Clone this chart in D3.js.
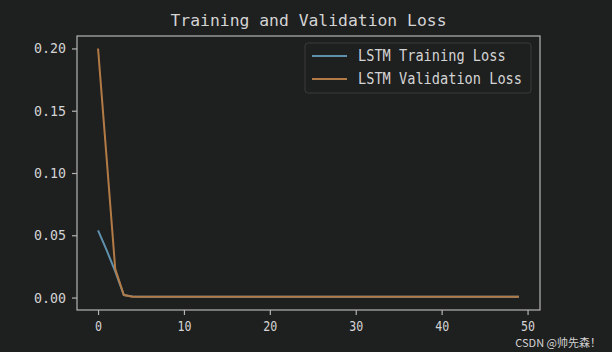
<!DOCTYPE html>
<html>
<head>
<meta charset="utf-8">
<script src="https://cdn.jsdelivr.net/npm/d3@7"></script>
<style>
  body { margin: 0; background: #1e1f1f; }
  text { font-family: "DejaVu Sans Mono", "Liberation Mono", monospace; fill: #d4d4d4; }
</style>
</head>
<body>
<div class="chart"></div>
<script>
// loss per epoch
const trainLoss = [0.054, 0.038, 0.021, 0.002, 0.0008, 0.0007, 0.0007, 0.0006, 0.0006, 0.0006,
  0.0006, 0.0006, 0.0006, 0.0006, 0.0006, 0.0006, 0.0006, 0.0006, 0.0006, 0.0006,
  0.0006, 0.0006, 0.0006, 0.0006, 0.0006, 0.0006, 0.0006, 0.0006, 0.0006, 0.0006,
  0.0006, 0.0006, 0.0006, 0.0006, 0.0006, 0.0006, 0.0006, 0.0006, 0.0006, 0.0006,
  0.0006, 0.0006, 0.0006, 0.0006, 0.0006, 0.0006, 0.0006, 0.0006, 0.0006, 0.0006];
const valLoss = [0.200, 0.112, 0.023, 0.002, 0.0006, 0.0006, 0.0006, 0.0006, 0.0006, 0.0006,
  0.0006, 0.0006, 0.0006, 0.0006, 0.0006, 0.0006, 0.0006, 0.0006, 0.0006, 0.0006,
  0.0006, 0.0006, 0.0006, 0.0006, 0.0006, 0.0006, 0.0006, 0.0006, 0.0006, 0.0006,
  0.0006, 0.0006, 0.0006, 0.0006, 0.0006, 0.0006, 0.0006, 0.0006, 0.0006, 0.0006,
  0.0006, 0.0006, 0.0006, 0.0006, 0.0006, 0.0006, 0.0006, 0.0006, 0.0006, 0.0006];
const xTicks = [0, 10, 20, 30, 40, 50];
const yTicks = [0, 0.05, 0.10, 0.15, 0.20];
const seriesNames = ["LSTM Training Loss", "LSTM Validation Loss"];
const colors = ["#5f91ad", "#b27b46"];

const width = 612, height = 352;
const m = {left: 77, right: 540, top: 36, bottom: 310};

const svg = d3.select('.chart').append('svg')
    .attr('width', width).attr('height', height)
    .style('display', 'block');

svg.append('rect').attr('width', width).attr('height', height).attr('fill', '#1e1f1f');

const n = trainLoss.length;
const x = d3.scaleLinear().domain([-0.05 * (n - 1), (n - 1) * 1.05]).range([m.left, m.right]);
const y = d3.scaleLinear().domain([-0.01, 0.21]).range([m.bottom, m.top]);

const line = d3.line().x((d, i) => x(i)).y(d => y(d));

[trainLoss, valLoss].forEach((s, k) => {
    svg.append('path')
        .datum(s)
        .attr('d', line)
        .attr('fill', 'none')
        .attr('stroke', colors[k])
        .attr('stroke-width', 2)
        .attr('stroke-linejoin', 'round');
});

// axes
const xAxis = svg.append('g')
    .attr('transform', `translate(0,${m.bottom})`)
    .call(d3.axisBottom(x).tickValues(xTicks).tickSize(5).tickPadding(6).tickFormat(d3.format('d')));
const yAxis = svg.append('g')
    .attr('transform', `translate(${m.left},0)`)
    .call(d3.axisLeft(y).tickValues(yTicks).tickSize(5).tickPadding(6).tickFormat(d3.format('.2f')));

[xAxis, yAxis].forEach(g => {
    g.select('.domain').remove();
    g.selectAll('line').attr('stroke', '#b4b4b4').attr('stroke-width', 1.2);
    g.selectAll('text').style('font-size', '14px').attr('fill', '#d4d4d4')
        .attr('textLength', function() { return this.textContent.length * (g === xAxis ? 7 : 8); })
        .attr('lengthAdjust', 'spacingAndGlyphs');
});

// frame
svg.append('rect')
    .attr('x', m.left).attr('y', m.top)
    .attr('width', m.right - m.left).attr('height', m.bottom - m.top)
    .attr('fill', 'none')
    .attr('stroke', '#b4b4b4')
    .attr('stroke-width', 1.2);

svg.append('text')
    .attr('x', (m.left + m.right) / 2).attr('y', 26)
    .attr('text-anchor', 'middle')
    .style('font-size', '16.5px')
    .attr('textLength', 276)
    .attr('lengthAdjust', 'spacingAndGlyphs')
    .text('Training and Validation Loss');

// legend
const lg = svg.append('g').attr('transform', 'translate(305,43)');
lg.append('rect')
    .attr('width', 226).attr('height', 50).attr('rx', 3)
    .attr('fill', '#1e1f1f')
    .attr('stroke', '#3a3b3b')
    .attr('stroke-width', 1);
seriesNames.forEach((name, k) => {
    const yy = 13 + k * 23;
    lg.append('line')
        .attr('x1', 7).attr('x2', 42).attr('y1', yy).attr('y2', yy)
        .attr('stroke', colors[k]).attr('stroke-width', 2);
    lg.append('text')
        .attr('x', 53).attr('y', yy + 5)
        .style('font-size', '15px')
        .attr('textLength', name.length * 8.2)
        .attr('lengthAdjust', 'spacingAndGlyphs')
        .text(name);
});

svg.append('text')
    .attr('x', 601).attr('y', 347)
    .attr('text-anchor', 'end')
    .style('font-family', '"Noto Sans CJK SC", "Noto Sans", sans-serif')
    .style('font-size', '11px')
    .attr('fill', '#d8d8d8')
    .text('CSDN @帅先森！');
</script>
</body>
</html>
